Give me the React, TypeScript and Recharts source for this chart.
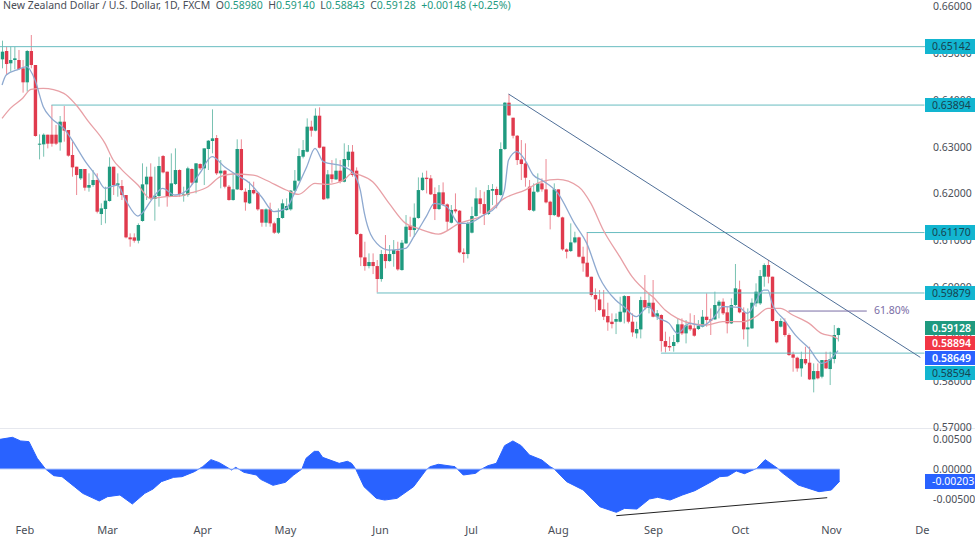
import React from "react";
import { ComposedChart, Bar, Line, Area, XAxis, YAxis, ReferenceLine } from "recharts";

const opens = [
0.64871,0.65049,0.64786,0.64857,0.64857,0.64679,0.64380,0.65049,0.64750,0.63055,
0.63055,0.63261,0.63261,0.63261,0.63097,0.63539,0.63361,0.62827,0.62577,0.62328,
0.62528,0.62129,0.62186,0.62293,0.61566,0.61673,0.61844,0.62577,0.62186,0.62164,
0.61972,0.61067,0.61067,0.60996,0.61417,0.62200,0.62364,0.61887,0.61951,0.62805,
0.62471,0.61936,0.62207,0.62506,0.61958,0.61972,0.62528,0.62236,0.62634,0.62542,
0.62955,0.63126,0.63190,0.62435,0.62492,0.62150,0.61865,0.62093,0.62955,0.62043,
0.61794,0.62079,0.62022,0.61666,0.61381,0.61666,0.61367,0.61167,0.61481,0.61651,
0.61666,0.62065,0.62278,0.62791,0.62898,0.63432,0.63347,0.63667,0.63005,0.61900,
0.62413,0.62306,0.62492,0.62256,0.62719,0.62898,0.62492,0.61138,0.60640,0.60454,
0.60540,0.60454,0.60177,0.60711,0.60561,0.60711,0.60782,0.60369,0.60939,0.61316,
0.61224,0.61480,0.62078,0.62342,0.62328,0.61993,0.61672,0.62029,0.61772,0.61380,
0.61665,0.61637,0.60746,0.60711,0.61167,0.61523,0.61900,0.61779,0.61566,0.62064,
0.62100,0.61972,0.62955,0.63945,0.63624,0.63239,0.62734,0.62648,0.62150,0.61637,
0.62043,0.62221,0.62093,0.61829,0.61544,0.62093,0.61494,0.60810,0.60775,0.60960,
0.61067,0.60654,0.60526,0.60226,0.59835,0.59742,0.59528,0.59386,0.59265,0.59265,
0.59265,0.59464,0.59813,0.59265,0.59016,0.59101,0.59728,0.59564,0.59671,0.59372,
0.59408,0.58852,0.58746,0.58746,0.58831,0.59209,0.59016,0.59187,0.59123,0.59109,
0.59159,0.59372,0.59315,0.59315,0.59607,0.59693,0.59465,0.59230,0.59622,0.59956,
0.59465,0.59102,0.59123,0.59657,0.59657,0.60227,0.60476,0.60227,0.59280,0.59159,
0.59265,0.58981,0.58567,0.58496,0.58268,0.58468,0.58389,0.58033,0.58211,0.58090,
0.58446,0.58254,0.58468,0.58980];

const highs = [
0.65270,0.65142,0.65142,0.65142,0.65071,0.64857,0.65071,0.65391,0.64750,0.63268,
0.63290,0.63261,0.63895,0.63468,0.63660,0.63874,0.63361,0.63112,0.62577,0.62528,
0.62528,0.62435,0.62506,0.62435,0.61794,0.62150,0.62777,0.62577,0.62435,0.62293,
0.61972,0.61153,0.61153,0.61367,0.62649,0.62577,0.62649,0.62577,0.62791,0.62827,
0.62471,0.62862,0.62969,0.62520,0.62150,0.62577,0.62542,0.62649,0.62649,0.62969,
0.63147,0.63803,0.63254,0.62720,0.62506,0.62186,0.62435,0.63162,0.63162,0.62115,
0.62257,0.62257,0.62043,0.61666,0.61687,0.61808,0.61402,0.61687,0.61880,0.61901,
0.62079,0.62506,0.62969,0.63147,0.63610,0.63560,0.63824,0.63845,0.63005,0.62506,
0.62719,0.62755,0.62719,0.63076,0.63040,0.63040,0.62563,0.61152,0.60974,0.60725,
0.60725,0.60583,0.60796,0.61117,0.60903,0.61010,0.60974,0.61010,0.61544,0.61509,
0.61793,0.62349,0.62449,0.62492,0.62399,0.62135,0.62185,0.62242,0.61793,0.61758,
0.62007,0.61651,0.60832,0.61402,0.61722,0.62135,0.62078,0.62043,0.62185,0.62207,
0.62150,0.63097,0.63959,0.64130,0.63624,0.63254,0.63147,0.63076,0.62292,0.62221,
0.62435,0.62328,0.62741,0.61850,0.62221,0.62093,0.61509,0.60832,0.61366,0.61188,
0.61081,0.60868,0.61174,0.60226,0.59977,0.59942,0.59942,0.59671,0.59443,0.59443,
0.59799,0.59835,0.59813,0.59443,0.59265,0.59799,0.60262,0.59870,0.60156,0.59515,
0.59422,0.59052,0.58945,0.58981,0.59337,0.59337,0.59301,0.59444,0.59408,0.59301,
0.59515,0.59871,0.59550,0.59907,0.59729,0.59764,0.59586,0.59764,0.60498,0.60142,
0.59572,0.59550,0.59764,0.60085,0.60370,0.60512,0.60583,0.60227,0.59280,0.59337,
0.59337,0.59016,0.58624,0.58518,0.58624,0.58731,0.58731,0.58375,0.58375,0.58446,
0.58624,0.58624,0.59194,0.59140];

const lows = [
0.64679,0.64536,0.64608,0.64657,0.64643,0.64159,0.64180,0.64679,0.63219,0.62734,
0.62791,0.62969,0.63005,0.63040,0.62919,0.63112,0.62791,0.62364,0.61972,0.62293,
0.62065,0.62043,0.62150,0.61580,0.61331,0.61367,0.61830,0.61972,0.61936,0.61865,
0.61046,0.60868,0.60954,0.60939,0.61402,0.61865,0.61865,0.61424,0.61723,0.62435,
0.61723,0.61936,0.62186,0.61936,0.61830,0.61936,0.62186,0.62008,0.62506,0.62186,
0.62506,0.62862,0.62399,0.62115,0.62115,0.61851,0.61851,0.62079,0.62065,0.61637,
0.61780,0.61986,0.61637,0.61295,0.61295,0.61295,0.61139,0.61139,0.61466,0.61637,
0.61637,0.62043,0.62257,0.62755,0.62884,0.63219,0.63332,0.62969,0.61865,0.61879,
0.62235,0.62292,0.62221,0.62242,0.62577,0.62363,0.61117,0.60454,0.60355,0.60405,
0.60283,0.59892,0.60120,0.60405,0.60547,0.60440,0.60355,0.60355,0.60925,0.61081,
0.61081,0.61466,0.62064,0.62007,0.61972,0.61437,0.61651,0.61758,0.61209,0.61366,
0.61580,0.60725,0.60526,0.60618,0.61152,0.61509,0.61580,0.61331,0.61544,0.61758,
0.61687,0.61957,0.62933,0.63660,0.63182,0.62613,0.62292,0.62150,0.61637,0.61615,
0.62021,0.62043,0.61793,0.61238,0.61523,0.61494,0.60782,0.60618,0.60754,0.60939,
0.60640,0.60333,0.60212,0.59799,0.59478,0.59500,0.59300,0.59072,0.59122,0.59001,
0.59251,0.59229,0.59229,0.58944,0.58909,0.58909,0.59514,0.59443,0.59358,0.59301,
0.58624,0.58610,0.58639,0.58624,0.58802,0.58981,0.58802,0.59066,0.58945,0.59087,
0.59144,0.59159,0.58981,0.59301,0.59337,0.59408,0.59016,0.59216,0.59600,0.59444,
0.58888,0.58731,0.59109,0.59586,0.59622,0.60013,0.60085,0.59265,0.58802,0.59144,
0.58945,0.58532,0.58197,0.58197,0.58090,0.58340,0.58019,0.57755,0.58033,0.58055,
0.58254,0.57912,0.58375,0.58843];

const closes = [
0.65035,0.64771,0.64857,0.64892,0.64665,0.64380,0.65049,0.64750,0.63233,0.63069,
0.63261,0.63069,0.63069,0.63069,0.63539,0.63347,0.62813,0.62563,0.62399,0.62528,
0.62129,0.62186,0.62293,0.61616,0.61687,0.61851,0.62577,0.62186,0.62221,0.61972,
0.61067,0.61025,0.60996,0.61331,0.62200,0.62364,0.61901,0.61958,0.62592,0.62456,
0.61936,0.62221,0.62506,0.61993,0.61986,0.62542,0.62236,0.62649,0.62542,0.62969,
0.63133,0.63183,0.62435,0.62492,0.62150,0.61865,0.62093,0.62955,0.62079,0.61815,
0.62079,0.62008,0.61666,0.61381,0.61666,0.61367,0.61167,0.61481,0.61794,0.61737,
0.62065,0.62278,0.62805,0.62934,0.63432,0.63347,0.63667,0.62983,0.61880,0.62413,
0.62313,0.62492,0.62256,0.62741,0.62898,0.62399,0.61138,0.60640,0.60454,0.60540,
0.60454,0.60177,0.60711,0.60561,0.60711,0.60796,0.60383,0.60953,0.61295,0.61224,
0.61487,0.62078,0.62342,0.62313,0.61986,0.61672,0.62029,0.61772,0.61402,0.61651,
0.61623,0.60746,0.60711,0.61366,0.61523,0.61900,0.61779,0.61566,0.62078,0.62100,
0.61972,0.62955,0.63945,0.63674,0.63239,0.62719,0.62634,0.62342,0.61651,0.62043,
0.62221,0.62093,0.61815,0.61544,0.62093,0.61509,0.60810,0.60761,0.60960,0.61067,
0.60654,0.60511,0.60226,0.59835,0.59742,0.59514,0.59372,0.59251,0.59215,0.59322,
0.59478,0.59813,0.59265,0.59037,0.59108,0.59728,0.59571,0.59671,0.59372,0.59444,
0.58852,0.58731,0.58717,0.58831,0.59209,0.59016,0.59187,0.59102,0.58966,0.59173,
0.59372,0.59301,0.59287,0.59622,0.59693,0.59444,0.59230,0.59622,0.59978,0.59465,
0.59102,0.59144,0.59671,0.59907,0.60241,0.60476,0.60227,0.59280,0.58824,0.59280,
0.58981,0.58553,0.58496,0.58268,0.58468,0.58375,0.58033,0.58211,0.58055,0.58446,
0.58268,0.58468,0.58981,0.59128];

// Moving averages, read at the bars listed
const slowBars = [0,2,5,7,10,15,18,21,25,27,29,33,36,40,43,46,50,53,56,61,64,69,72,76,79,83,85,87,90,94,98,101,106,111,117,122,127,131,135,140,143,146,150,153,157,158,161,164,168,171,175,180,183,186,189,192,196,199,202,203];
const slowVals = [0.63610,0.63824,0.64038,0.64230,0.64251,0.64145,0.63895,0.63539,0.63076,0.62720,0.62520,0.62186,0.61901,0.61936,0.61951,0.62022,0.62150,0.62364,0.62421,0.62399,0.62293,0.62079,0.61986,0.62221,0.62199,0.62292,0.62435,0.62399,0.62256,0.61793,0.61366,0.61259,0.61138,0.61366,0.61544,0.61900,0.62078,0.62256,0.62306,0.62150,0.61793,0.61224,0.60654,0.60226,0.59870,0.59800,0.59515,0.59337,0.59216,0.59194,0.59265,0.59265,0.59372,0.59550,0.59550,0.59408,0.59230,0.59016,0.58945,0.58894];
const fastBars = [0,1,4,6,8,10,12,15,17,20,23,25,28,30,33,34,36,39,42,45,48,51,54,57,60,63,66,69,71,74,76,78,83,85,87,88,91,94,98,100,103,105,108,111,113,117,120,122,123,125,127,129,131,135,139,142,145,149,151,154,157,159,162,164,167,170,173,175,179,181,185,186,187,190,193,196,199,201,203];
const fastVals = [0.64323,0.64536,0.64657,0.64714,0.64429,0.63860,0.63610,0.63397,0.63147,0.62720,0.62364,0.62115,0.62186,0.61865,0.61523,0.61580,0.61830,0.62115,0.61972,0.62079,0.62435,0.62791,0.62577,0.62399,0.62236,0.61936,0.61616,0.61687,0.62008,0.62577,0.62969,0.62684,0.62577,0.62470,0.62078,0.61580,0.60939,0.60796,0.60832,0.61081,0.61509,0.61793,0.61722,0.61366,0.61366,0.61544,0.61722,0.62078,0.62719,0.62898,0.62719,0.62399,0.62292,0.62007,0.61366,0.60939,0.60226,0.59728,0.59586,0.59372,0.59586,0.59372,0.59230,0.59016,0.59230,0.59173,0.59372,0.59586,0.59572,0.59444,0.59942,0.59942,0.59657,0.59301,0.58945,0.58696,0.58375,0.58446,0.58649];

// Oscillator, read at the bars listed
const oscBars = [0,3,5,7,9,11,13,15,18,20,24,26,29,32,35,37,39,42,44,47,49,51,53,56,57,59,62,63,66,69,71,73,74,76,77,78,82,84,85,86,88,91,93,96,100,103,104,106,110,112,115,116,118,120,122,124,126,128,131,133,134,137,141,145,149,151,154,157,159,162,165,168,172,174,176,178,180,183,185,188,189,193,198,201,203];
const oscVals = [0.00494,0.00528,0.00467,0.00456,0.00178,0,-0.00111,-0.00128,-0.00294,-0.00406,-0.00533,-0.00461,-0.00433,-0.00583,-0.00406,-0.00333,-0.00211,-0.00139,-0.00128,-0.00044,0.00039,0.00156,0.00106,-0.00017,0.00028,-0.00056,-0.001,-0.00172,-0.00272,-0.00222,-0.001,0,0.00178,0.00294,0.00294,0.00194,0.00094,0.00128,0.00094,0,-0.00294,-0.00489,-0.00517,-0.00489,-0.00294,-0.00017,0.00039,0.00078,0.00039,-0.001,-0.00072,-0.00017,0.00056,0.00094,0.00389,0.00467,0.00389,0.00233,0.0015,0.00039,0,-0.00211,-0.0035,-0.00628,-0.00722,-0.00656,-0.00667,-0.005,-0.00472,-0.00517,-0.00433,-0.00361,-0.00211,-0.00128,-0.00117,-0.00033,-0.00078,0.00011,0.00156,0.00011,-0.00056,-0.00267,-0.00378,-0.0035,-0.00203];

const slotCount = 225;
const priceTicks = [0.66,0.65,0.64,0.63,0.62,0.61,0.6,0.59,0.58,0.57];
const oscTicks = [0.005,0,-0.005];
const monthBars = [6,26,49,69,92,114,135,158,179,201,223];
const monthNames = ["Feb","Mar","Apr","May","Jun","Jul","Aug","Sep","Oct","Nov","De"];
const levels: [number, number][] = [[12,0.63894],[142,0.6117],[91,0.59879],[160,0.58594]];

const levelTexts = ["0.65142","0.63894","0.61170","0.59879","0.59128","0.58894","0.58649","0.58594"];
const levelTops = [39,97.7,225,285.7,320.7,335.7,350.7,365.7];
const levelFills = ["#12b5d0","#12b5d0","#12b5d0","#12b5d0","#1f9a7f","#f23645","#2962ff","#12b5d0"];
const levelInks = ["#17424f","#17424f","#17424f","#17424f","#ffffff","#ffffff","#ffffff","#17424f"];

const rows = Array.from({ length: slotCount }, (_, i) => {
  const s = slowBars.indexOf(i);
  const f = fastBars.indexOf(i);
  const v = oscBars.indexOf(i);
  return {
    i,
    open: i < opens.length ? opens[i] : null,
    high: i < highs.length ? highs[i] : null,
    low: i < lows.length ? lows[i] : null,
    close: i < closes.length ? closes[i] : null,
    slow: s >= 0 ? slowVals[s] : null,
    fast: f >= 0 ? fastVals[f] : null,
    osc: v >= 0 ? oscVals[v] : null,
  };
});

const UP = "#1f9a7f";
const DOWN = "#e03a4d";
const FONT = "'Noto Sans', sans-serif";
const INK = "#4a4e57";

function Candle(props: any) {
  const { x, y, width, height, payload } = props;
  if (!payload || payload.open == null || !Number.isFinite(y)) return null;
  const { open, close, high, low } = payload;
  const h = Math.abs(height);
  const top = Math.min(y, y + height);
  const perPrice = h / Math.max(high - low, 1e-6);
  const yOf = (p: number) => top + (high - p) * perPrice;
  const bodyTop = yOf(Math.max(open, close));
  const bodyH = Math.max(yOf(Math.min(open, close)) - bodyTop, 1);
  const color = close >= open ? UP : DOWN;
  const cx = x + width / 2;
  return (
    <g>
      <line x1={cx} x2={cx} y1={top} y2={top + h} stroke={color} strokeOpacity={0.6} strokeWidth={1} />
      <rect x={cx - 1.7} y={bodyTop} width={3.4} height={bodyH} fill={color} />
    </g>
  );
}

const tickStyle = { fontSize: 10.5, fill: INK, fontFamily: FONT };
const LEVEL = "#68bcc0";

export default function App() {
  return (
    <div style={{ position: "fixed", left: 0, top: 0, width: 975, height: 540, background: "#fff", overflow: "hidden", fontFamily: FONT }}>
      <div style={{ position: "absolute", left: 0, top: 428, width: 975, borderTop: "1px solid #e6e8ee" }} />
      <div style={{ position: "absolute", left: 0, top: 428 }}>
        <ComposedChart width={975} height={112} data={rows} margin={{ top: 0, right: 0, bottom: 0, left: 0 }}>
          <XAxis dataKey="i" type="category" ticks={monthBars} interval={0} height={24}
            tickFormatter={(v: number) => monthNames[monthBars.indexOf(v)]} tick={{ ...tickStyle, fontSize: 11 }}
            axisLine={false} tickLine={false} tickSize={0} tickMargin={10} />
          <YAxis orientation="right" width={48.5} domain={[-0.00783, 0.00683]} allowDataOverflow ticks={oscTicks} interval={0}
            tickFormatter={(v: number) => v.toFixed(5)} tick={tickStyle} axisLine={false} tickLine={false} tickSize={0} tickMargin={6.5} />
          <Area dataKey="osc" baseValue={0} stroke="#2962ff" strokeWidth={1} fill="#2962ff" fillOpacity={1} dot={false} activeDot={false} connectNulls type="linear" isAnimationActive={false} />
          <ReferenceLine segment={[{ x: 0, y: 0 }, { x: 203, y: 0 }]} stroke="#b9cdfb" strokeWidth={1} />
          <ReferenceLine segment={[{ x: 149, y: -0.00778 }, { x: 200, y: -0.00478 }]} stroke="#222222" strokeWidth={1} />
        </ComposedChart>
      </div>
      <div style={{ position: "absolute", left: 0, top: 0 }}>
        <ComposedChart width={975} height={440} data={rows} margin={{ top: 0, right: 0, bottom: 12, left: 0 }} barCategoryGap={0}>
          <XAxis dataKey="i" hide type="category" />
          <YAxis orientation="right" width={48.5} domain={[0.56994, 0.66139]} allowDataOverflow ticks={priceTicks} interval={0}
            tickFormatter={(v: number) => v.toFixed(5)} tick={tickStyle} axisLine={false} tickLine={false} tickSize={0} tickMargin={6.5} />
          <ReferenceLine y={0.65142} stroke={LEVEL} strokeWidth={1} />
          {levels.map(([from, price]) => (
            <ReferenceLine key={price} segment={[{ x: from, y: price }, { x: 224, y: price }]} stroke={LEVEL} strokeWidth={1} />
          ))}
          <Bar dataKey={(d: any) => (d.low == null ? null : [d.low, d.high])} barSize={3} shape={<Candle />} isAnimationActive={false} />
          <Line dataKey="slow" stroke="#e8a0a6" strokeWidth={1.3} dot={false} activeDot={false} connectNulls type="monotone" isAnimationActive={false} />
          <Line dataKey="fast" stroke="#8ea9d0" strokeWidth={1.3} dot={false} activeDot={false} connectNulls type="monotone" isAnimationActive={false} />
          <ReferenceLine segment={[{ x: 123, y: 0.6413 }, { x: 223, y: 0.58503 }]} stroke="#4f6f98" strokeWidth={1} />
          <ReferenceLine segment={[{ x: 191, y: 0.59493 }, { x: 210, y: 0.59493 }]} stroke="#7b6da6" strokeWidth={1} />
        </ComposedChart>
      </div>

      <div style={{ position: "absolute", left: 3, top: 0, fontSize: 10.5, lineHeight: "10px", color: INK, whiteSpace: "pre" }}>
        {"New Zealand Dollar / U.S. Dollar, 1D, FXCM  O"}<span style={{ color: UP }}>0.58980</span>{"  H"}<span style={{ color: UP }}>0.59140</span>{"  L"}<span style={{ color: UP }}>0.58843</span>{"  C"}<span style={{ color: UP }}>0.59128</span>{"  "}<span style={{ color: UP }}>+0.00148 (+0.25%)</span>
      </div>
      <div style={{ position: "absolute", left: 874, top: 303, fontSize: 10.5, lineHeight: "14px", color: "#7b6da6" }}>61.80%</div>
      {levelTexts.map((t, k) => (
        <div key={t} style={{ position: "absolute", left: 925, top: levelTops[k], width: 50, height: 14.5, background: levelFills[k], color: levelInks[k], fontSize: 10.5, lineHeight: "14.5px", paddingLeft: 7, boxSizing: "border-box", fontWeight: k >= 4 && k <= 6 ? 600 : 400 }}>{t}</div>
      ))}
      <div style={{ position: "absolute", left: 925, top: 474.3, width: 50, height: 15, background: "#2962ff", color: "#fff", fontSize: 10.5, lineHeight: "15px", paddingLeft: 7, boxSizing: "border-box", whiteSpace: "nowrap", overflow: "hidden" }}>-0.00203</div>
    </div>
  );
}
